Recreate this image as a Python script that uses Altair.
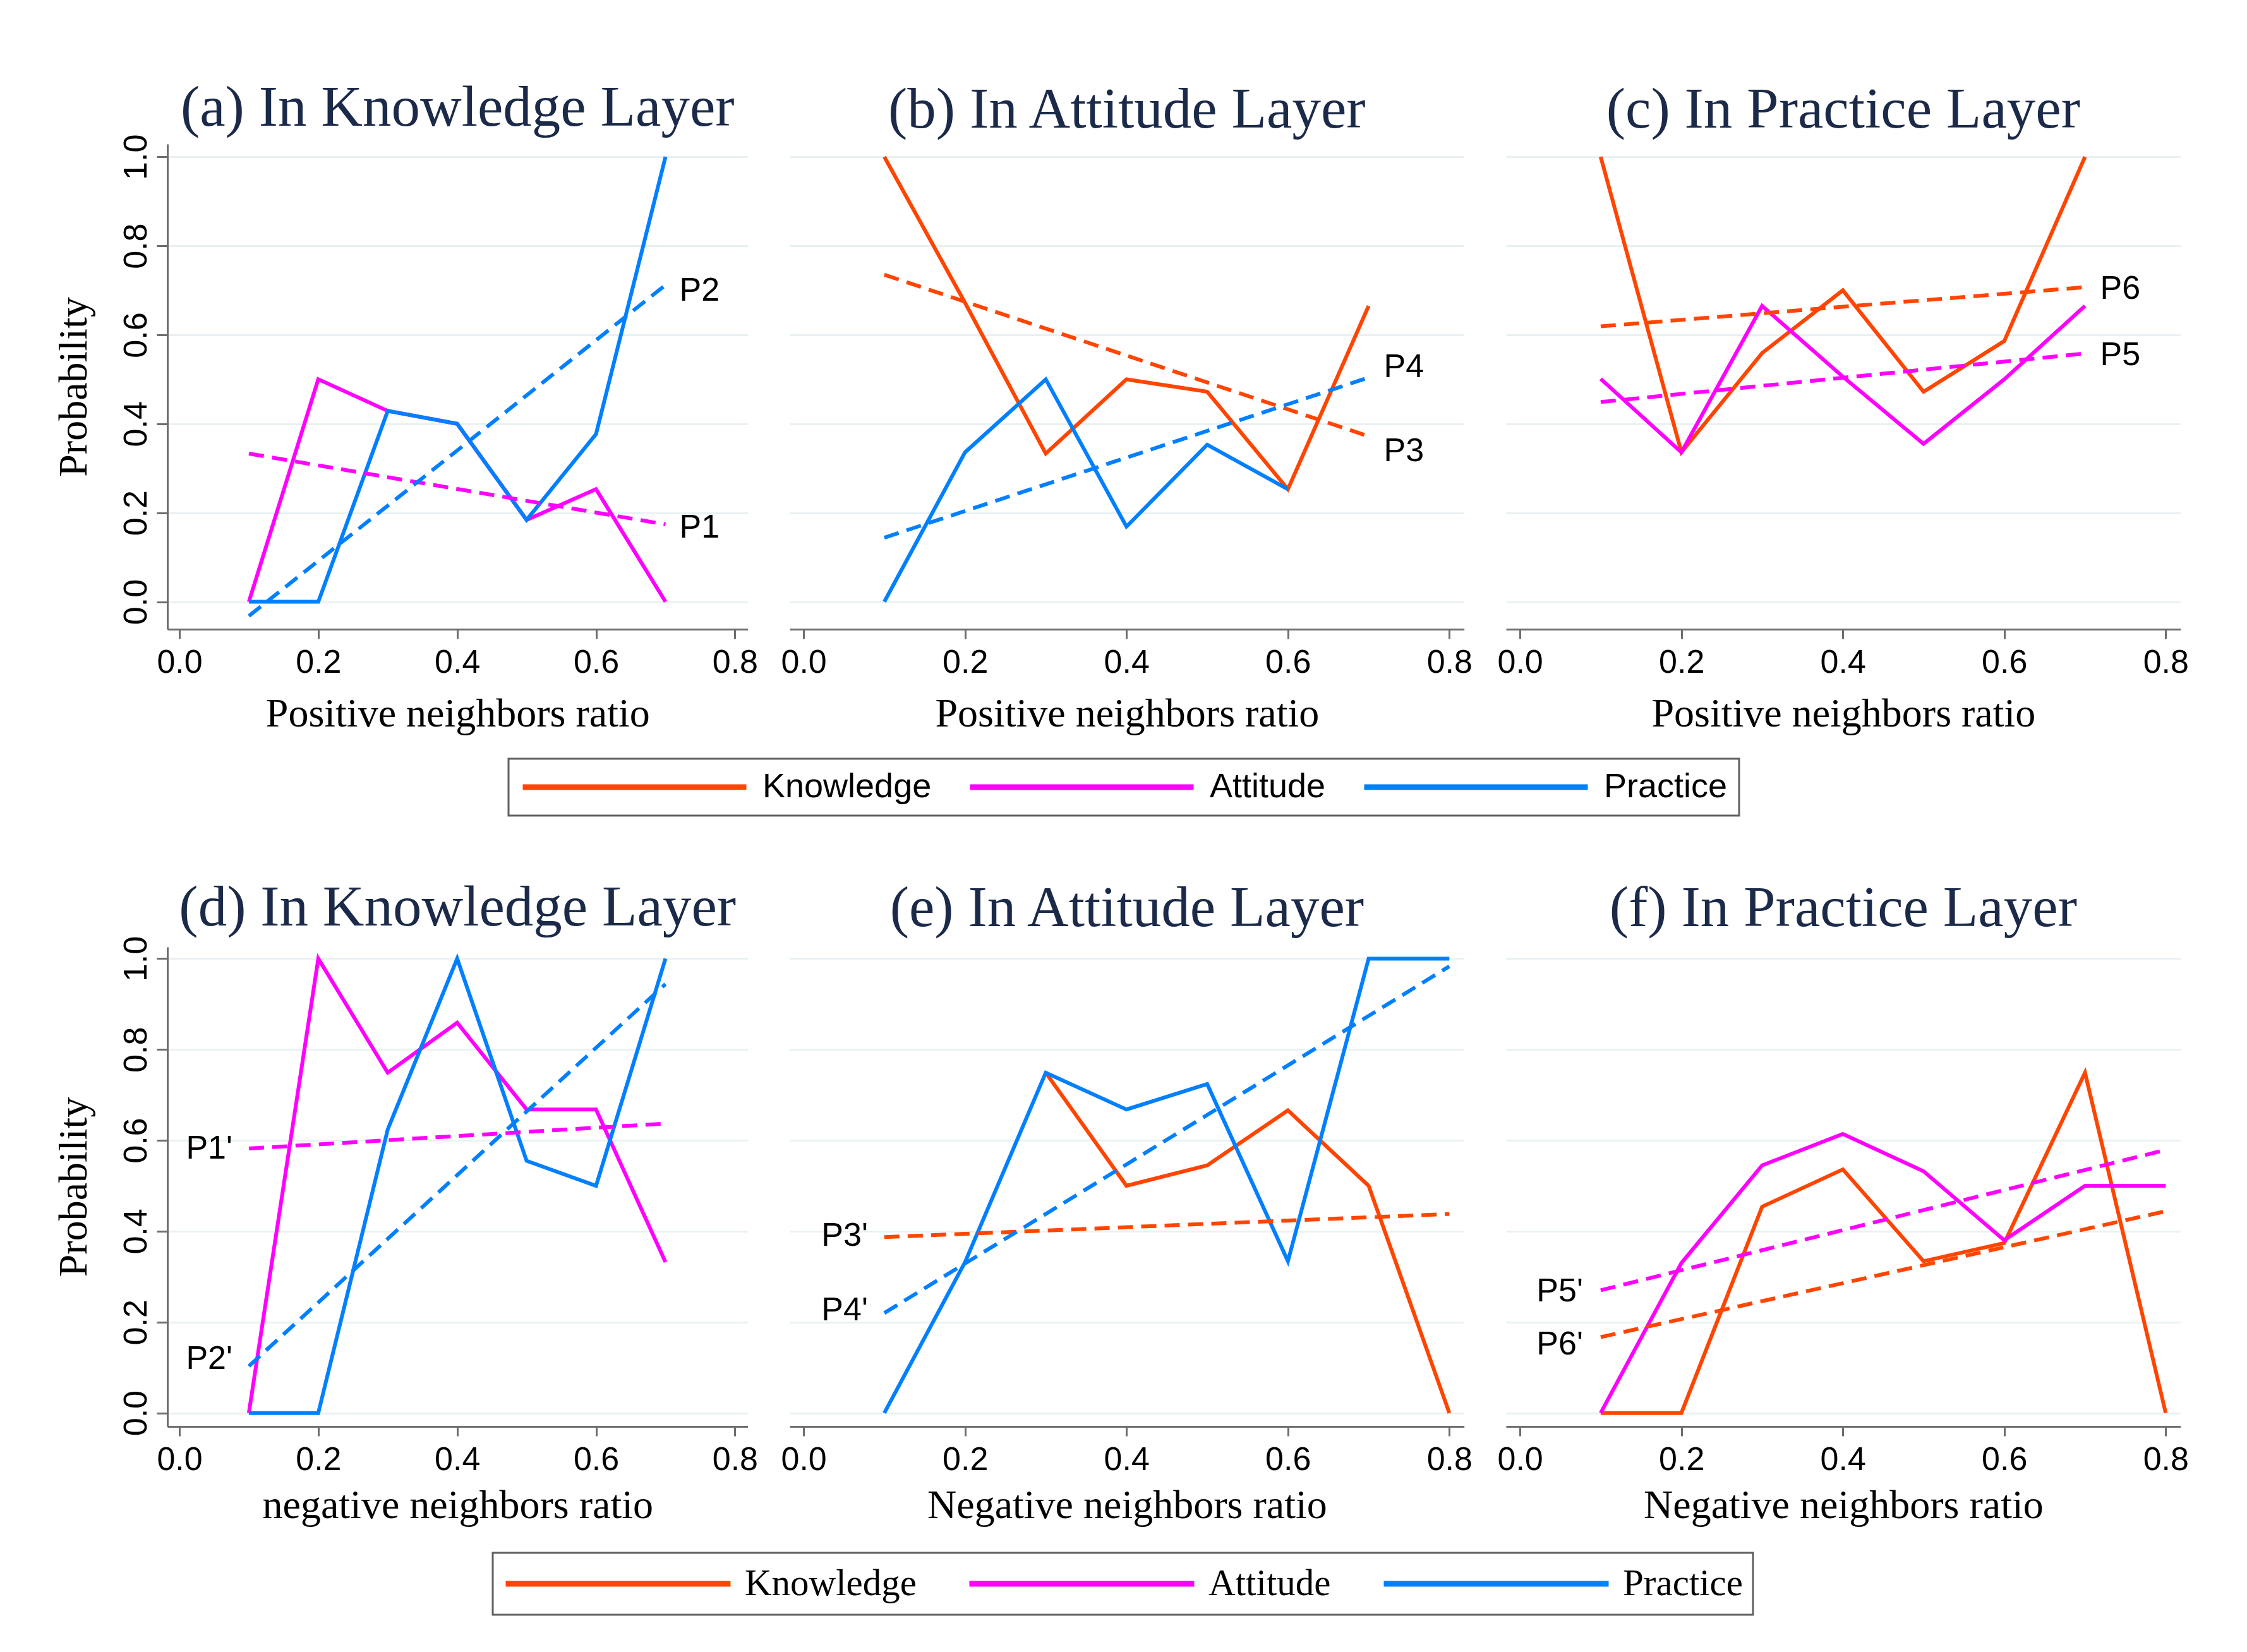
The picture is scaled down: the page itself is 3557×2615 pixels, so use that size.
import altair as alt
import pandas as pd

SERIES = ["Knowledge", "Attitude", "Practice"]
COLORS = ["#ff4500", "#ff00ff", "#0080ff"]

X_POS = [0.1, 0.2, 0.3, 0.4, 0.5, 0.6, 0.7]
X_NEG = [0.1, 0.2, 0.3, 0.4, 0.5, 0.6, 0.7, 0.8]
TREND_X_POS = [0.1, 0.7]
TREND_X_NEG = [0.1, 0.8]
X_TICKS = [0.0, 0.2, 0.4, 0.6, 0.8]
Y_TICKS = [0.0, 0.2, 0.4, 0.6, 0.8, 1.0]

# (a) In Knowledge Layer - positive neighbours
A_ATTITUDE = [0.0, 0.50, 0.429, 0.40, 0.184, 0.253, 0.0]
A_PRACTICE = [0.0, 0.0, 0.429, 0.40, 0.184, 0.377, 1.0]
A_TREND_ATTITUDE = [0.333, 0.174]
A_TREND_PRACTICE = [-0.032, 0.712]
A_LABELS = ["P1", "P2"]
A_LABEL_Y = [0.167, 0.700]

# (b) In Attitude Layer - positive neighbours
B_KNOWLEDGE = [1.0, 0.672, 0.333, 0.50, 0.472, 0.253, 0.665]
B_PRACTICE = [0.0, 0.336, 0.50, 0.169, 0.353, 0.253]
B_TREND_KNOWLEDGE = [0.735, 0.372]
B_TREND_PRACTICE = [0.144, 0.504]
B_LABELS = ["P3", "P4"]
B_LABEL_Y = [0.339, 0.528]

# (c) In Practice Layer - positive neighbours
C_KNOWLEDGE = [1.0, 0.336, 0.559, 0.70, 0.472, 0.586, 1.0]
C_ATTITUDE = [0.501, 0.336, 0.665, 0.506, 0.355, 0.50, 0.665]
C_TREND_KNOWLEDGE = [0.619, 0.707]
C_TREND_ATTITUDE = [0.449, 0.558]
C_LABELS = ["P6", "P5"]
C_LABEL_Y = [0.703, 0.554]

# (d) In Knowledge Layer - negative neighbours
D_ATTITUDE = [0.0, 1.0, 0.749, 0.859, 0.668, 0.668, 0.332]
D_PRACTICE = [0.0, 0.0, 0.624, 1.0, 0.555, 0.50, 1.0]
D_TREND_ATTITUDE = [0.582, 0.637]
D_TREND_PRACTICE = [0.103, 0.944]
D_LABELS = ["P1'", "P2'"]
D_LABEL_Y = [0.582, 0.119]

# (e) In Attitude Layer - negative neighbours
E_KNOWLEDGE_X = [0.3, 0.4, 0.5, 0.6, 0.7, 0.8]
E_KNOWLEDGE = [0.749, 0.50, 0.545, 0.666, 0.50, 0.0]
E_PRACTICE = [0.0, 0.332, 0.749, 0.668, 0.724, 0.334, 1.0, 1.0]
E_TREND_KNOWLEDGE = [0.387, 0.438]
E_TREND_PRACTICE = [0.220, 0.983]
E_LABELS = ["P3'", "P4'"]
E_LABEL_Y = [0.390, 0.226]

# (f) In Practice Layer - negative neighbours
F_KNOWLEDGE = [0.0, 0.0, 0.454, 0.536, 0.334, 0.374, 0.749, 0.0]
F_ATTITUDE = [0.0, 0.33, 0.545, 0.614, 0.532, 0.38, 0.50, 0.50]
F_TREND_KNOWLEDGE = [0.167, 0.444]
F_TREND_ATTITUDE = [0.270, 0.579]
F_LABELS = ["P5'", "P6'"]
F_LABEL_Y = [0.268, 0.151]

TITLE_COLOR = "#1b2a49"
AXIS_COLOR = "#6e6e6e"
GRID_COLOR = "#e9f1f2"
SERIF = "Liberation Serif"
SANS = "Liberation Sans"

X_DOMAIN = [-0.0173, 0.8183]
Y_DOMAIN_TOP = [-0.0617, 1.0288]
Y_DOMAIN_BOTTOM = [-0.0297, 1.0256]


def series_frame(pairs):
    rows = []
    for name, xs, ys in pairs:
        for x, y in zip(xs, ys):
            rows.append({"x": x, "y": y, "series": name})
    return pd.DataFrame(rows)


def label_frame(texts, x, ys):
    return pd.DataFrame({"text": texts, "x": [x] * len(texts), "y": ys})


def panel(lines, trends, labels, title, xtitle, show_y, ydom, width, height,
          legend, align, dx, title_offset, xtitle_y):
    xs = alt.Scale(domain=X_DOMAIN, nice=False, zero=False)
    ys = alt.Scale(domain=ydom, nice=False, zero=False)
    xaxis = alt.Axis(values=X_TICKS, format=".1f", title=xtitle, grid=False,
                     titleFont=SERIF, titleFontSize=64, titleFontWeight="normal",
                     titleColor="black", titleBaseline="alphabetic", titleY=xtitle_y,
                     labelFont=SANS, labelFontSize=52, labelColor="black",
                     labelPadding=12, tickSize=15, tickWidth=3, tickColor=AXIS_COLOR,
                     domainColor=AXIS_COLOR, domainWidth=3, labelFlush=False)
    if show_y:
        yaxis = alt.Axis(values=Y_TICKS, format=".1f", title="Probability",
                         grid=True, gridColor=GRID_COLOR, gridWidth=3,
                         labelAngle=270, labelAlign="center", labelBaseline="alphabetic",
                         labelFont=SANS, labelFontSize=52, labelColor="black",
                         labelPadding=17, tickSize=17, tickWidth=3, tickColor=AXIS_COLOR,
                         domainColor=AXIS_COLOR, domainWidth=3, labelFlush=False,
                         titleFont=SERIF, titleFontSize=64, titleFontWeight="normal",
                         titleColor="black", titleAngle=270, titleAlign="center",
                         titleBaseline="alphabetic", titleX=-129, titleY=height / 2)
    else:
        yaxis = alt.Axis(values=Y_TICKS, title=None, grid=True, gridColor=GRID_COLOR,
                         gridWidth=3, labels=False, ticks=False, domain=False)
    color = alt.Color("series:N", scale=alt.Scale(domain=SERIES, range=COLORS),
                      legend=legend)
    base_x = alt.X("x:Q", scale=xs, axis=xaxis)
    base_y = alt.Y("y:Q", scale=ys, axis=yaxis)
    solid = alt.Chart(lines).mark_line(strokeWidth=6).encode(
        x=base_x, y=base_y, color=color)
    dashed = alt.Chart(trends).mark_line(strokeWidth=6, strokeDash=[24, 13]).encode(
        x="x:Q", y="y:Q", color=color)
    text = alt.Chart(labels).mark_text(align=align, baseline="middle", dx=dx,
                                       font=SANS, fontSize=52, color="black").encode(
        x="x:Q", y="y:Q", text="text:N")
    return alt.layer(solid, dashed, text).properties(
        width=width, height=height,
        title=alt.TitleParams(title, font=SERIF, fontSize=91, fontWeight="normal",
                              color=TITLE_COLOR, anchor="middle", frame="group",
                              baseline="alphabetic", offset=title_offset))


legend_top = alt.Legend(orient="none", legendX=-445, legendY=973, direction="horizontal",
                        columns=3, title=None, symbolType="stroke", symbolSize=354 ** 2,
                        symbolStrokeWidth=9, symbolDash=[1, 0], clipHeight=54,
                        labelFont=SANS, labelFontSize=54, labelColor="black",
                        labelOffset=21, columnPadding=56, padding=18,
                        strokeColor="#606060", labelLimit=0)
legend_bottom = alt.Legend(orient="none", legendX=-470, legendY=959, direction="horizontal",
                           columns=3, title=None, symbolType="stroke", symbolSize=356 ** 2,
                           symbolStrokeWidth=9, symbolDash=[1, 0], clipHeight=66,
                           labelFont=SERIF, labelFontSize=59, labelColor="black",
                           labelOffset=18, columnPadding=79, padding=16,
                           strokeColor="#606060", labelLimit=0)

W_FIRST = 918.5
W_OTHER = 1067.7
H_TOP = 768
H_BOTTOM = 759

pa = panel(series_frame([("Attitude", X_POS, A_ATTITUDE), ("Practice", X_POS, A_PRACTICE)]),
           series_frame([("Attitude", TREND_X_POS, A_TREND_ATTITUDE),
                         ("Practice", TREND_X_POS, A_TREND_PRACTICE)]),
           label_frame(A_LABELS, 0.7, A_LABEL_Y),
           "(a) In Knowledge Layer", "Positive neighbors ratio", True, Y_DOMAIN_TOP,
           W_FIRST, H_TOP, None, "left", 22, -78, 153)
pb = panel(series_frame([("Knowledge", X_POS, B_KNOWLEDGE), ("Practice", X_POS[:6], B_PRACTICE)]),
           series_frame([("Knowledge", TREND_X_POS, B_TREND_KNOWLEDGE),
                         ("Practice", TREND_X_POS, B_TREND_PRACTICE)]),
           label_frame(B_LABELS, 0.7, B_LABEL_Y),
           "(b) In Attitude Layer", "Positive neighbors ratio", False, Y_DOMAIN_TOP,
           W_OTHER, H_TOP, legend_top, "left", 24, -65, 153)
pc = panel(series_frame([("Knowledge", X_POS, C_KNOWLEDGE), ("Attitude", X_POS, C_ATTITUDE)]),
           series_frame([("Knowledge", TREND_X_POS, C_TREND_KNOWLEDGE),
                         ("Attitude", TREND_X_POS, C_TREND_ATTITUDE)]),
           label_frame(C_LABELS, 0.7, C_LABEL_Y),
           "(c) In Practice Layer", "Positive neighbors ratio", False, Y_DOMAIN_TOP,
           W_OTHER, H_TOP, None, "left", 24, -65, 153)

pd_ = panel(series_frame([("Attitude", X_POS, D_ATTITUDE), ("Practice", X_POS, D_PRACTICE)]),
            series_frame([("Attitude", TREND_X_POS, D_TREND_ATTITUDE),
                          ("Practice", TREND_X_POS, D_TREND_PRACTICE)]),
            label_frame(D_LABELS, 0.1, D_LABEL_Y),
            "(d) In Knowledge Layer", "negative neighbors ratio", True, Y_DOMAIN_BOTTOM,
            W_FIRST, H_BOTTOM, None, "right", -26, -75, 144)
pe = panel(series_frame([("Knowledge", E_KNOWLEDGE_X, E_KNOWLEDGE), ("Practice", X_NEG, E_PRACTICE)]),
           series_frame([("Knowledge", TREND_X_NEG, E_TREND_KNOWLEDGE),
                         ("Practice", TREND_X_NEG, E_TREND_PRACTICE)]),
           label_frame(E_LABELS, 0.1, E_LABEL_Y),
           "(e) In Attitude Layer", "Negative neighbors ratio", False, Y_DOMAIN_BOTTOM,
           W_OTHER, H_BOTTOM, legend_bottom, "right", -26, -58, 144)
pf = panel(series_frame([("Knowledge", X_NEG, F_KNOWLEDGE), ("Attitude", X_NEG, F_ATTITUDE)]),
           series_frame([("Knowledge", TREND_X_NEG, F_TREND_KNOWLEDGE),
                         ("Attitude", TREND_X_NEG, F_TREND_ATTITUDE)]),
           label_frame(F_LABELS, 0.1, F_LABEL_Y),
           "(f) In Practice Layer", "Negative neighbors ratio", False, Y_DOMAIN_BOTTOM,
           W_OTHER, H_BOTTOM, None, "right", -28, -58, 144)

row1 = alt.hconcat(pa, pb, pc, spacing=66, bounds="flush").resolve_scale(color="independent")
row2 = alt.hconcat(pd_, pe, pf, spacing=66, bounds="flush").resolve_scale(color="independent")

chart = alt.vconcat(row1, row2, spacing=H_TOP + 503, bounds="flush").resolve_scale(
    color="independent"
).properties(
    padding={"left": 77, "top": 118, "right": 20, "bottom": 20},
    background="white",
).configure_view(stroke=None).configure_legend(strokeWidth=3)

chart.save("out.html", embed_options={"renderer": "svg", "actions": False})
